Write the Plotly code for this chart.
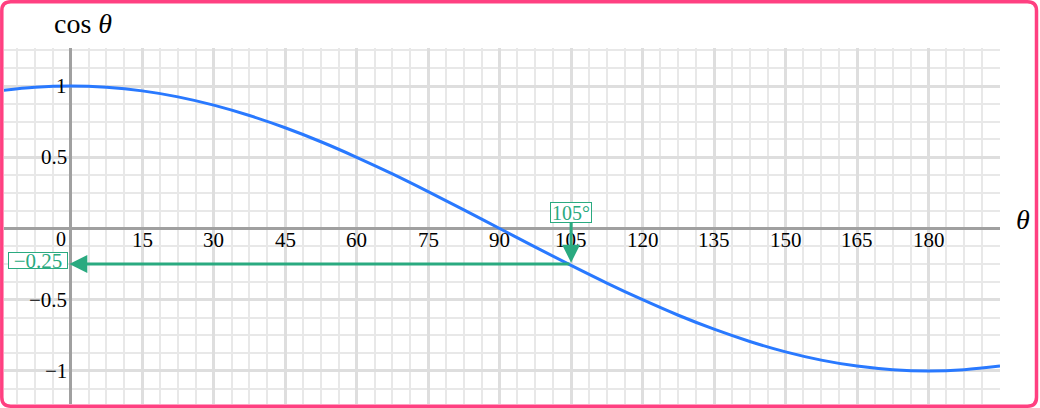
import plotly.graph_objects as go

# cos(theta) curve, values every 7.5 degrees
theta = [-15, -7.5, 0, 7.5, 15, 22.5, 30, 37.5, 45, 52.5, 60, 67.5, 75, 82.5, 90,
         97.5, 105, 112.5, 120, 127.5, 135, 142.5, 150, 157.5, 165, 172.5, 180, 187.5, 195]
cos_vals = [0.966, 0.991, 1.000, 0.991, 0.966, 0.924, 0.866, 0.793, 0.707, 0.609, 0.500,
            0.383, 0.259, 0.131, 0.000, -0.131, -0.259, -0.383, -0.500, -0.609, -0.707,
            -0.793, -0.866, -0.924, -0.966, -0.991, -1.000, -0.991, -0.966]

x_ticks = [15, 30, 45, 60, 75, 90, 105, 120, 135, 150, 165, 180]
y_ticks = [1, 0.5, -0.5, -1]
y_tick_text = ["1", "0.5", "\u22120.5", "\u22121"]

angle = 105
value = -0.25

W, H = 1040, 408
L, R, T, B = 4, 40, 48, 4
BLUE = "#2979ff"
GREEN = "#2aaa80"
PINK = "#ff4081"
FONT = "Liberation Serif"


def px(x, y):
    # pixel -> paper coords
    return (x - L) / (W - L - R), (H - B - y) / (H - T - B)


fig = go.Figure()
fig.add_trace(go.Scatter(x=theta, y=cos_vals, mode="lines", line_shape="spline",
                         line=dict(color=BLUE, width=3), hoverinfo="skip"))

anns = []
# x tick labels
anns.append(dict(x=0, y=0, text="0", showarrow=False, xanchor="right", yanchor="middle",
                 xshift=-3, yshift=-11, font=dict(family=FONT, size=20, color="black")))
for t in x_ticks:
    anns.append(dict(x=t, y=0, text=str(t), showarrow=False, xanchor="center", yanchor="middle",
                     yshift=-12, font=dict(family=FONT, size=21, color="black")))
# y tick labels
for v, s in zip(y_ticks, y_tick_text):
    anns.append(dict(x=0, y=v, text=s, showarrow=False, xanchor="right", yanchor="middle",
                     xshift=-2, font=dict(family=FONT, size=21, color="black")))

# horizontal arrow to the y axis
anns.append(dict(x=-0.3, y=value, ax=angle, ay=value, axref="x", ayref="y", text="",
                 showarrow=True, arrowhead=2, arrowsize=1.2, arrowwidth=3, arrowcolor=GREEN))
# vertical arrow from the angle label down to the curve
anns.append(dict(x=angle, y=value + 0.01, ax=angle, ay=0.112, axref="x", ayref="y", text="105\u00b0",
                 showarrow=True, arrowhead=2, arrowsize=1.2, arrowwidth=3, arrowcolor=GREEN,
                 font=dict(family=FONT, size=20, color=GREEN), bgcolor="white",
                 bordercolor=GREEN, borderwidth=1, borderpad=0, width=40, height=19))
anns.append(dict(x=-6.8, y=-0.228, text="\u22120.25", showarrow=False,
                 font=dict(family=FONT, size=21, color=GREEN), bgcolor="white",
                 bordercolor=GREEN, borderwidth=1, borderpad=0, width=58, height=15))

# axis titles
ax_, ay_ = px(83, 23)
anns.append(dict(xref="paper", yref="paper", x=ax_, y=ay_, text="cos <i>\u03b8</i>", showarrow=False,
                 xanchor="center", yanchor="middle",
                 font=dict(family=FONT, size=28, color="black")))
ax_, ay_ = px(1023, 219)
anns.append(dict(xref="paper", yref="paper", x=ax_, y=ay_, text="<i>\u03b8</i>", showarrow=False,
                 xanchor="center", yanchor="middle",
                 font=dict(family=FONT, size=28, color="black")))

# rounded pink frame
r = 9
x0, y0, x1, y1 = 1.8, 1.8, 1036.5, 406.2
pts = [("M", x0 + r, y0), ("L", x1 - r, y0), ("Q", x1, y0, x1, y0 + r), ("L", x1, y1 - r),
       ("Q", x1, y1, x1 - r, y1), ("L", x0 + r, y1), ("Q", x0, y1, x0, y1 - r),
       ("L", x0, y0 + r), ("Q", x0, y0, x0 + r, y0)]
path = ""
for p in pts:
    coords = []
    for i in range(1, len(p), 2):
        a, b = px(p[i], p[i + 1])
        coords.append(f"{a:.5f},{b:.5f}")
    path += p[0] + " ".join(coords) + " "
path += "Z"

fig.update_layout(
    width=W, height=H, margin=dict(l=L, r=R, t=T, b=B, autoexpand=False),
    paper_bgcolor="white", plot_bgcolor="white", showlegend=False,
    annotations=anns,
    shapes=[dict(type="path", path=path, xref="paper", yref="paper",
                 line=dict(color=PINK, width=3.5), layer="above")],
    xaxis=dict(range=[-14, 195], showticklabels=False, ticks="", dtick=15, tick0=0,
               showgrid=True, gridcolor="#dedede", gridwidth=2.5,
               minor=dict(dtick=3.75, tick0=0, showgrid=True, gridcolor="#e8e8e8", gridwidth=1.5),
               zeroline=True, zerolinecolor="#a0a0a0", zerolinewidth=3, fixedrange=True),
    yaxis=dict(range=[-1.232, 1.267], showticklabels=False, ticks="", dtick=0.5, tick0=0,
               showgrid=True, gridcolor="#dedede", gridwidth=2.5,
               minor=dict(dtick=0.125, tick0=0, showgrid=True, gridcolor="#e8e8e8", gridwidth=1.5),
               zeroline=True, zerolinecolor="#a0a0a0", zerolinewidth=3, fixedrange=True),
)

# page has a default 8px body margin; drop it so the figure sits at the window corner
fig.write_html("out.html", config={"displayModeBar": False},
               post_script="document.body.style.margin='0px';")
